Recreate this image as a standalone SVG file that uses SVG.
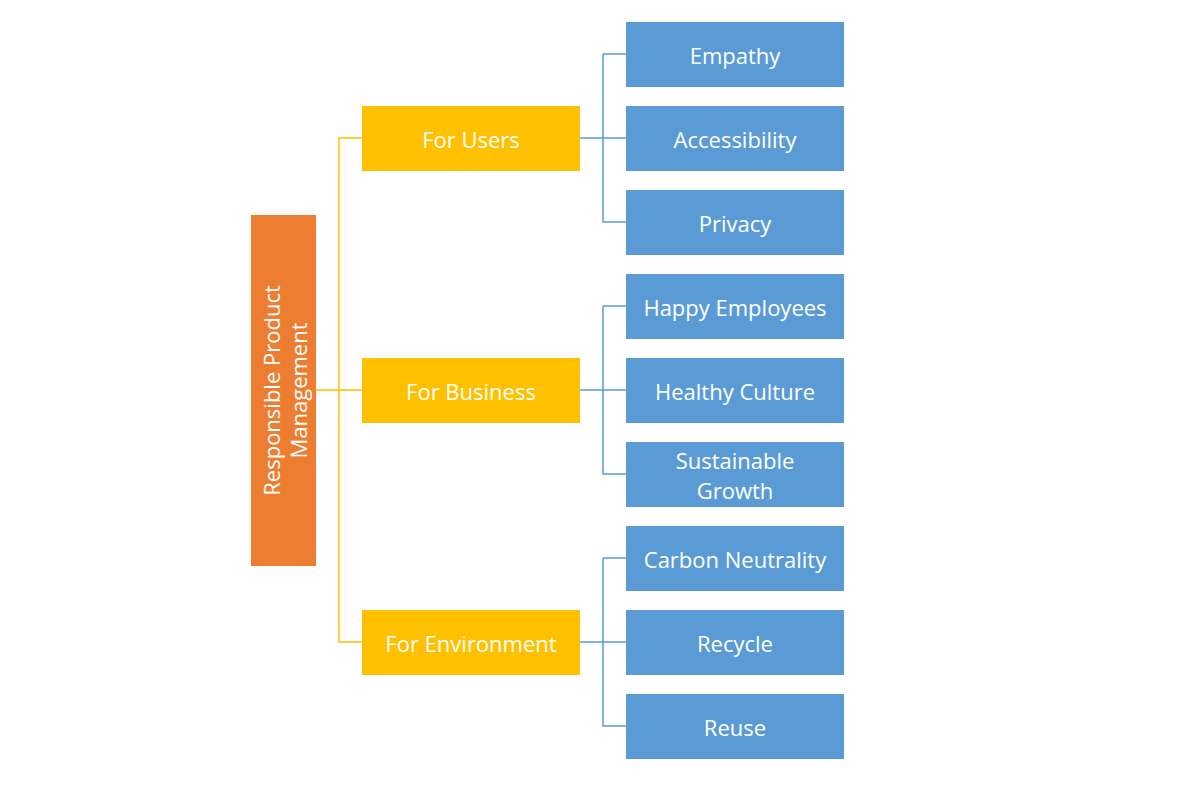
<svg xmlns="http://www.w3.org/2000/svg" width="1200" height="806" viewBox="0 0 1200 806">
<style>
text{font-family:"Open Sans","Liberation Sans",sans-serif;font-size:22px;fill:#fff;text-anchor:middle;dominant-baseline:central}
.o{fill:#ED7D31}.y{fill:#FFC000}.b{fill:#5B9BD5}
.cy{stroke:#FFC000;stroke-width:1.5;fill:none}.cb{stroke:#5B9BD5;stroke-width:1.5;fill:none}
</style>
<rect width="1200" height="806" fill="#fff"/>
<g id="connectors">
<path class="cy" d="M316 390H339M362 138H339V642H362M339 390H362"/>
<path class="cb" d="M580 138H626M603 54H626M603 54V222H626"/>
<path class="cb" d="M580 390H626M603 306H626M603 306V474H626"/>
<path class="cb" d="M580 642H626M603 558H626M603 558V726H626"/>
</g>
<g id="root"><rect class="o" x="251" y="215" width="65" height="351"/><text transform="translate(283.5 390.5) rotate(-90)"><tspan x="0" dy="-13">Responsible Product</tspan><tspan x="0" dy="27">Management</tspan></text></g>
<g id="users"><rect class="y" x="362" y="106" width="218" height="65"/><text x="471" y="138.5">For Users</text></g>
<g id="business"><rect class="y" x="362" y="358" width="218" height="65"/><text x="471" y="390.5">For Business</text></g>
<g id="environment"><rect class="y" x="362" y="610" width="218" height="65"/><text x="471" y="642.5">For Environment</text></g>
<g id="empathy"><rect class="b" x="626" y="22" width="218" height="65"/><text x="735" y="54.5">Empathy</text></g>
<g id="accessibility"><rect class="b" x="626" y="106" width="218" height="65"/><text x="735" y="138.5">Accessibility</text></g>
<g id="privacy"><rect class="b" x="626" y="190" width="218" height="65"/><text x="735" y="222.5">Privacy</text></g>
<g id="happy"><rect class="b" x="626" y="274" width="218" height="65"/><text x="735" y="306.5">Happy Employees</text></g>
<g id="healthy"><rect class="b" x="626" y="358" width="218" height="65"/><text x="735" y="390.5">Healthy Culture</text></g>
<g id="sustainable"><rect class="b" x="626" y="442" width="218" height="65"/><text x="735" y="474.5"><tspan x="735" dy="-15">Sustainable</tspan><tspan x="735" dy="30">Growth</tspan></text></g>
<g id="carbon"><rect class="b" x="626" y="526" width="218" height="65"/><text x="735" y="558.5">Carbon Neutrality</text></g>
<g id="recycle"><rect class="b" x="626" y="610" width="218" height="65"/><text x="735" y="642.5">Recycle</text></g>
<g id="reuse"><rect class="b" x="626" y="694" width="218" height="65"/><text x="735" y="726.5">Reuse</text></g>
</svg>
